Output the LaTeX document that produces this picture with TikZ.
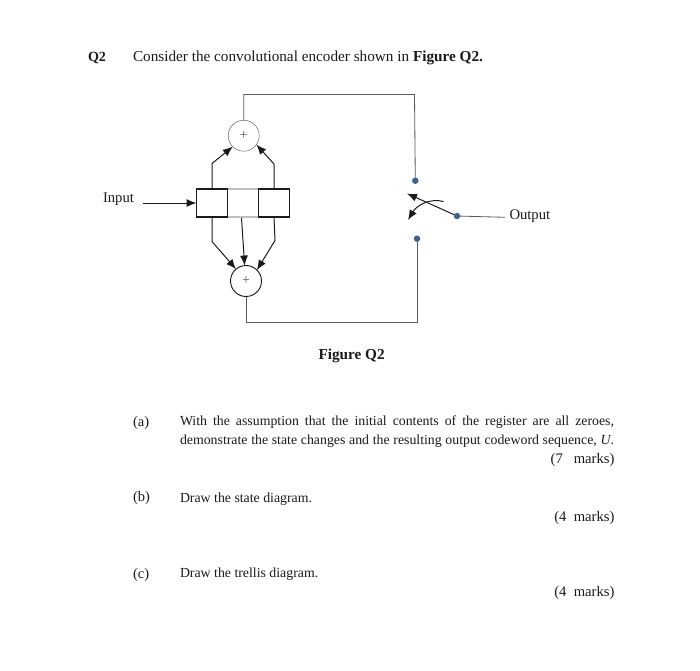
\documentclass[tikz,border=0pt]{standalone}
\usepackage{fontspec}
\setmainfont{Liberation Serif}
\usetikzlibrary{arrows.meta, calc}
\definecolor{ink}{HTML}{1A1A1A}
\definecolor{wire}{HTML}{5A5A5A}
\definecolor{pole}{HTML}{3F6190}
\tikzset{
  body/.style={anchor=base west, inner sep=0pt, outer sep=0pt, text=ink, font=\fontsize{11.8}{15}\selectfont},
  label/.style={body, font=\fontsize{12.5}{15}\selectfont},
  head/.style={body, font=\fontsize{13}{15}\selectfont},
  marks/.style={label, anchor=base east},
  regbox/.style={draw=ink, line width=1pt, minimum width=31*0.03cm, minimum height=28*0.03cm, inner sep=0pt, outer sep=0pt},
  midbox/.style={regbox, draw=black!25},
  adder/.style={circle, draw=wire, minimum size=31*0.03cm, inner sep=0pt, outer sep=0pt, font=\fontsize{12}{12}\selectfont, text=wire},
  contact/.style={circle, fill=pole, minimum size=6.5*0.03cm, inner sep=0pt, outer sep=0pt},
  feed/.style={draw=ink, line width=0.85pt, -{Latex[length=10*0.03cm, width=8*0.03cm]}},
  line/.style={draw=wire, line width=0.7pt},
}
\begin{document}
\begin{tikzpicture}[x=0.03cm, y=-0.03cm]
  \useasboundingbox[fill=white] (0, 0) rectangle (700, 670);
  % heading
  \node[label, font=\fontsize{12}{15}\selectfont\bfseries] (qno) at (88, 61) {Q2};
  \node[head] (intro) at (133, 61) {Consider the convolutional encoder shown in \textbf{Figure Q2.}};
  % shift register
  \node[midbox] (regB) at (243, 203) {};
  \node[regbox] (regA) at (212, 203) {};
  \node[regbox] (regC) at (274, 203) {};
  \node[adder] (addTop) at (243.7, 135.7) {+};
  \node[adder, draw=ink, line width=0.8pt] (addBot) at (246, 281) {+};
  % switch
  \node[contact] (poleTop) at (415.3, 180.7) {};
  \node[contact] (poleBot) at (417, 238.7) {};
  \node[contact] (poleOut) at (457, 216) {};
  \coordinate (armEnd) at (407, 193.5);
  \coordinate (swingStart) at (443.5, 201.5);
  \coordinate (swingEnd) at (408, 220);
  % labels
  \node[label] (inLabel) at (103, 202) {Input};
  \node[label] (outLabel) at (509.5, 219) {Output};
  \coordinate (inStart) at (142.5, 203);
  \draw[feed] (inStart) -- (regA.west);
  % taps up
  \draw[feed] (regA.north) -- ++(0, -25.5) -- (addTop.225);
  \draw[feed] (regC.north) -- ++(0, -25) -- (addTop.-35);
  % taps down
  \draw[feed] (regA.south) -- ++(0, 24.5) -- (addBot.130);
  \draw[feed] ($(regB.south)+(-1.5, 1)$) -- (addBot.95);
  \draw[feed] (regC.south) -- ++(1, 23.5) -- (addBot.45);
  % wires to the switch
  \draw[line] (addTop.north) |- (414.5, 94.5) -- (poleTop);
  \draw[line] (addBot.south) |- (417, 322) -- (poleBot);
  \draw[line] (poleOut) -- (505, 217.3);
  \draw[feed] (poleOut) -- (armEnd);
  \draw[feed] (swingStart) .. controls (430, 198) and (417, 205) .. (swingEnd);
  % caption
  \node[head, font=\fontsize{13}{15}\selectfont\bfseries] (caption) at (318.5, 359.5) {Figure Q2};
  % questions
  \node[label, font=\fontsize{12.4}{15}\selectfont] (partA) at (133, 426) {(a)};
  \node[body] (lineA) at (180, 425) {\makebox[13.02cm][s]{With the assumption that the initial contents of the register are all zeroes,}};
  \node[body] (lineB) at (180, 444) {\makebox[13.02cm][s]{demonstrate the state changes and the resulting output codeword sequence, \textit{U}.}};
  \node[marks] (marksA) at (614.5, 463) {(7~~~marks)};
  \node[label, font=\fontsize{12.4}{15}\selectfont] (partB) at (133, 501) {(b)};
  \node[body] (lineC) at (180, 502) {Draw the state diagram.};
  \node[marks] (marksB) at (614.5, 521) {(4~~marks)};
  \node[label, font=\fontsize{12.4}{15}\selectfont] (partC) at (133, 578) {(c)};
  \node[body] (lineD) at (180, 577) {Draw the trellis diagram.};
  \node[marks] (marksC) at (614.5, 596) {(4~~marks)};
\end{tikzpicture}
\end{document}
